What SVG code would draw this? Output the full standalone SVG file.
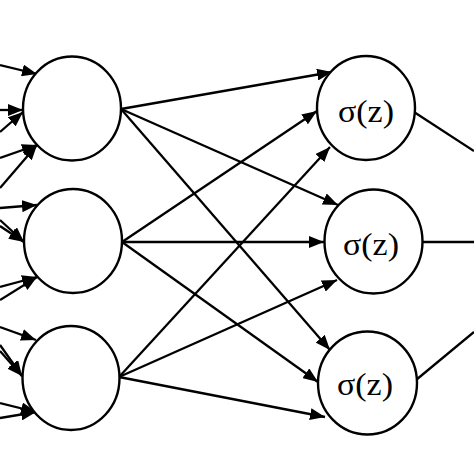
<svg xmlns="http://www.w3.org/2000/svg" width="474" height="474" viewBox="0 0 474 474">
<style>
.node{fill:#fff;stroke:#000;stroke-width:2.4}
.lbl{font-family:"Liberation Serif","DejaVu Serif",serif;font-size:32px;fill:#000;text-anchor:middle}
.c line{stroke:#000;stroke-width:2.3}
.c .a{marker-end:url(#ah)}
</style>
<defs>
<marker id="ah" markerUnits="userSpaceOnUse" markerWidth="16" markerHeight="12" refX="15" refY="6" orient="auto">
<path d="M0,0 L15,6 L0,12 z" fill="#000"/>
</marker>
</defs>
<rect width="474" height="474" fill="#fff"/>
<g id="connectors" class="c">
<line class="a" x1="0" y1="65" x2="37" y2="74"/>
<line class="a" x1="0" y1="110" x2="23" y2="110"/>
<line class="a" x1="0" y1="132" x2="23" y2="112"/>
<line class="a" x1="0" y1="158" x2="37" y2="145"/>
<line class="a" x1="0" y1="188" x2="37" y2="145"/>
<line class="a" x1="0" y1="208" x2="37" y2="205"/>
<line class="a" x1="0" y1="220" x2="24" y2="242"/>
<line class="a" x1="0" y1="226" x2="24" y2="242"/>
<line class="a" x1="0" y1="287" x2="37" y2="277"/>
<line class="a" x1="0" y1="300" x2="37" y2="277"/>
<line class="a" x1="0" y1="327" x2="36" y2="340"/>
<line class="a" x1="0" y1="345" x2="22" y2="376"/>
<line class="a" x1="0" y1="351" x2="22" y2="376"/>
<line class="a" x1="0" y1="403" x2="36" y2="412"/>
<line class="a" x1="0" y1="418" x2="36" y2="412"/>
<line class="a" x1="121" y1="109" x2="332" y2="72"/>
<line class="a" x1="121" y1="109" x2="338" y2="205"/>
<line class="a" x1="121" y1="109" x2="330" y2="350"/>
<line class="a" x1="122" y1="242" x2="317" y2="111"/>
<line class="a" x1="122" y1="242" x2="324" y2="242"/>
<line class="a" x1="122" y1="242" x2="318" y2="382"/>
<line class="a" x1="119" y1="377" x2="330" y2="147"/>
<line class="a" x1="119" y1="377" x2="337" y2="280"/>
<line class="a" x1="119" y1="377" x2="325" y2="417"/>
<line x1="414" y1="112" x2="474" y2="151"/>
<line x1="422" y1="242" x2="474" y2="242"/>
<line x1="416" y1="380" x2="474" y2="332"/>
</g>
<g id="h1"><ellipse class="node" cx="72" cy="108.5" rx="49" ry="52"/></g>
<g id="h2"><ellipse class="node" cx="73" cy="241" rx="49" ry="52"/></g>
<g id="h3"><ellipse class="node" cx="71" cy="378" rx="48.5" ry="52"/></g>
<g id="o1"><ellipse class="node" cx="366" cy="108" rx="49" ry="52"/><text class="lbl" x="366" y="122" textLength="56" lengthAdjust="spacingAndGlyphs">σ(z)</text></g>
<g id="o2"><ellipse class="node" cx="373.5" cy="241.5" rx="49" ry="52"/><text class="lbl" x="371" y="255" textLength="56" lengthAdjust="spacingAndGlyphs">σ(z)</text></g>
<g id="o3"><ellipse class="node" cx="367.5" cy="383" rx="49.5" ry="51.5"/><text class="lbl" x="365" y="395" textLength="56" lengthAdjust="spacingAndGlyphs">σ(z)</text></g>
</svg>
